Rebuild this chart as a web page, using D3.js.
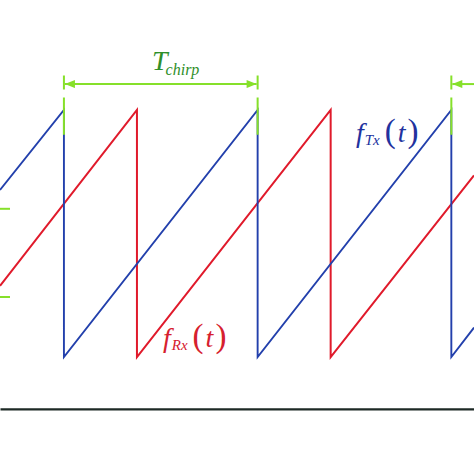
<!DOCTYPE html>
<html>
<head>
<meta charset="utf-8">
<script src="https://cdn.jsdelivr.net/npm/d3@7"></script>
<style>
body { margin: 0; background: #fff; }
svg { display: block; }
</style>
</head>
<body>
<div id="chart"></div>
<script>
// time in units of T_chirp, frequency normalised to the sweep (0 = f_min, 1 = f_max)
const txTime = [-0.33, 0, 0, 1, 1, 2, 2, 2.117];
const txFreq = [0.676, 1, 0, 1, 0, 1, 0, 0.119];
const rxTime = [-0.33, 0.377, 0.377, 1.377, 1.377, 2.117];
const rxFreq = [0.288, 1, 0, 1, 0, 0.735];
const chirpEdges = [0, 1, 2];
const periodArrows = [[0, 1], [2, 2.117]];
const bandTicks = [0.6, 0.243];
const arrowLevel = 1.105;
const axisLevel = -0.21;

const width = 474, height = 474;

const svg = d3.select("#chart").append("svg")
    .attr("width", width)
    .attr("height", height);

const x = d3.scaleLinear().domain([-0.33, 2.117]).range([0, width]);
const y = d3.scaleLinear().domain([0, 1]).range([357, 110]);

const line = d3.line().x(d => x(d[0])).y(d => y(d[1]));

// time axis (bare line)
svg.append("g")
    .attr("transform", `translate(0,${y(axisLevel)})`)
    .call(d3.axisBottom(x).tickValues([]).tickSizeOuter(0))
    .call(g => g.select(".domain").attr("stroke", "#1d2925").attr("stroke-width", 2.2));

svg.append("path")
    .datum(d3.zip(rxTime, rxFreq))
    .attr("d", line)
    .attr("fill", "none")
    .attr("stroke", "#e01a2b")
    .attr("stroke-width", 2);

svg.append("path")
    .datum(d3.zip(txTime, txFreq))
    .attr("d", line)
    .attr("fill", "none")
    .attr("stroke", "#2340ac")
    .attr("stroke-width", 1.9);

const green = "#86e02a";

// chirp boundaries
svg.append("g").selectAll("line")
    .data(chirpEdges)
    .join("line")
    .attr("x1", d => x(d)).attr("x2", d => x(d))
    .attr("y1", y(1.14)).attr("y2", y(0.9))
    .attr("stroke", green)
    .attr("stroke-width", 2)
    .attr("stroke-dasharray", "14,8,40");

// period arrows
const defs = svg.append("defs");
defs.append("marker")
    .attr("id", "head")
    .attr("viewBox", "0 0 10 8")
    .attr("refX", 10).attr("refY", 4)
    .attr("markerWidth", 11).attr("markerHeight", 8)
    .attr("markerUnits", "userSpaceOnUse")
    .attr("orient", "auto-start-reverse")
  .append("path")
    .attr("d", "M0,0L10,4L0,8Z")
    .attr("fill", green);

svg.append("g").selectAll("line")
    .data(periodArrows)
    .join("line")
    .attr("x1", d => x(d[0]) + 1).attr("x2", d => x(d[1]) - (d[1] === 1 ? 1 : 0))
    .attr("y1", y(arrowLevel)).attr("y2", y(arrowLevel))
    .attr("stroke", green)
    .attr("stroke-width", 2)
    .attr("marker-start", "url(#head)")
    .attr("marker-end", (d, i) => i === 0 ? "url(#head)" : null);

// bandwidth ticks at the left edge
svg.append("g").selectAll("line")
    .data(bandTicks)
    .join("line")
    .attr("x1", 0).attr("x2", 10)
    .attr("y1", d => y(d)).attr("y2", d => y(d))
    .attr("stroke", green)
    .attr("stroke-width", 2);

// labels
const serif = "'Liberation Serif', 'DejaVu Serif', serif";

const tLabel = svg.append("text")
    .attr("x", 152).attr("y", 70)
    .attr("font-family", serif)
    .attr("font-style", "italic")
    .attr("fill", "#2f8f2a")
    .attr("font-size", 28);
tLabel.append("tspan").text("T");
tLabel.append("tspan").attr("font-size", 16).attr("dx", -2).attr("dy", 5).text("chirp");

function freqLabel(px, py, sub, color) {
    const t = svg.append("text")
        .attr("x", px).attr("y", py)
        .attr("font-family", serif)
        .attr("fill", color)
        .attr("font-size", 28);
    t.append("tspan").attr("font-style", "italic").text("f");
    t.append("tspan").attr("font-style", "italic").attr("font-size", 15).attr("dx", 1).attr("dy", 3).text(sub);
    t.append("tspan").attr("font-size", 33).attr("dx", 5).attr("dy", -3).text("(");
    t.append("tspan").attr("font-style", "italic").attr("dx", 2).text("t");
    t.append("tspan").attr("font-size", 33).attr("dx", 2).text(")");
}

freqLabel(356, 142, "Tx", "#22329e");
freqLabel(163, 347, "Rx", "#d6202e");
</script>
</body>
</html>
